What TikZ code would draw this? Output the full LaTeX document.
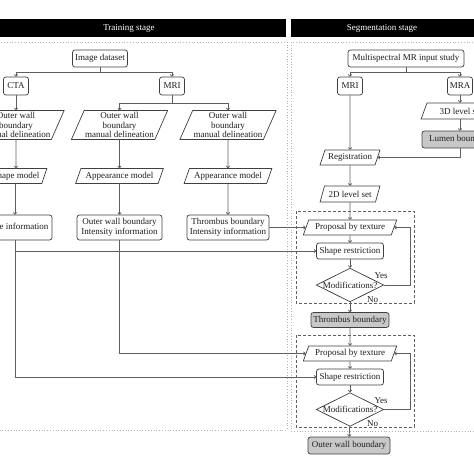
\documentclass[tikz,border=0pt]{standalone}
\usepackage{fontspec}
\setmainfont{Liberation Serif}
\usepackage{tikz}
\usetikzlibrary{arrows.meta, positioning, shapes.geometric, calc}
\definecolor{linegray}{RGB}{95,95,95}
\definecolor{boxgray}{RGB}{200,200,200}
\definecolor{inkgray}{RGB}{30,30,30}

\begin{document}
\begin{tikzpicture}[x=1pt, y=-1pt,
    every node/.style={font=\fontsize{9}{9.5}\selectfont, text=inkgray},
    conn/.style={draw=linegray, line width=0.8pt},
    arr/.style={conn, -{To[length=2.5pt, width=4pt]}},
    blk/.style={draw=inkgray!85, line width=0.7pt, rounded corners=2.5pt, fill=white, align=center, inner sep=1pt},
    result/.style={blk, fill=boxgray},
    para/.style={trapezium, trapezium left angle=65, trapezium right angle=115, trapezium stretches=true, draw=inkgray!85, line width=0.7pt, fill=white, align=center, inner sep=1pt},
    decide/.style={diamond, aspect=2, draw=inkgray!85, line width=0.7pt, fill=white, inner sep=0pt},
    bar/.style={fill=black, draw=none},
    frame/.style={draw=gray!60, dotted, line width=0.8pt},
    group/.style={draw=linegray, dash pattern=on 3pt off 2pt, line width=0.8pt}
]
\useasboundingbox (0,0) rectangle (474,474);
\clip (0,0) rectangle (474,474);

\draw[frame] (-10,42) rectangle (287,430);
\draw[frame] (291,42) rectangle (490,431);
\fill[bar] (-10,19) rectangle (286,37);
\fill[bar] (291,19) rectangle (490,37);
\node[text=white] (trainlbl) at (129,28) {Training stage};
\node[text=white] (seglbl) at (382,28) {Segmentation stage};

\draw[group] (296,211) rectangle (414,303);
\draw[group] (296,335) rectangle (414,427);

\node[blk, minimum width=55pt, minimum height=17pt] (dataset) at (100,58.5) {Image dataset};
\node[blk, minimum width=25pt, minimum height=18pt] (cta) at (16,86) {CTA};
\node[blk, minimum width=25pt, minimum height=18pt] (mriA) at (172,86) {MRI};
\node[para, minimum width=88pt, minimum height=29pt] (delinA) at (16,125) {Outer wall\\boundary\\manual delineation};
\node[para, minimum width=88pt, minimum height=29pt] (delinB) at (119.5,125) {Outer wall\\boundary\\manual delineation};
\node[para, minimum width=88pt, minimum height=29pt] (delinC) at (228,125) {Outer wall\\boundary\\manual delineation};
\node[para, minimum width=62pt, minimum height=15pt] (shmodel) at (16,176) {Shape model};
\node[para, minimum width=88pt, minimum height=15pt] (appA) at (119.5,176) {Appearance model};
\node[para, minimum width=88pt, minimum height=15pt] (appB) at (228,176) {Appearance model};
\node[blk, minimum width=74pt, minimum height=25pt] (shinfo) at (15,227.5) {Shape information};
\node[blk, minimum width=85pt, minimum height=25pt] (owinfo) at (119.5,227.5) {Outer wall boundary\\Intensity information};
\node[blk, minimum width=82pt, minimum height=25pt] (thinfo) at (228,227.5) {Thrombus boundary\\Intensity information};

\node[blk, minimum width=116pt, minimum height=17pt] (study) at (406,58.5) {Multispectral MR input study};
\node[blk, minimum width=25pt, minimum height=18pt] (mriB) at (350,86) {MRI};
\node[blk, minimum width=25pt, minimum height=18pt] (mra) at (460,86) {MRA};
\node[para, minimum width=80pt, minimum height=16pt] (lvlthree) at (461,111) {3D level set};
\node[result, minimum width=76pt, minimum height=17pt] (lumen) at (460,139.5) {Lumen boundary};
\node[para, minimum width=60pt, minimum height=15pt] (reg) at (350,157.5) {Registration};
\node[para, minimum width=60pt, minimum height=16pt] (lvltwo) at (350,194) {2D level set};

\node[para, minimum width=94pt, minimum height=15pt] (propA) at (350,227.5) {Proposal by texture};
\node[blk, minimum width=67pt, minimum height=16pt] (restrA) at (350,251) {Shape restriction};
\node[decide] (modA) at (350,285) {Modifications?};
\node[result, minimum width=78pt, minimum height=15pt] (thromb) at (350,320) {Thrombus boundary};

\node[para, minimum width=94pt, minimum height=15pt] (propB) at (350,353.5) {Proposal by texture};
\node[blk, minimum width=67pt, minimum height=16pt] (restrB) at (350,377) {Shape restriction};
\node[decide] (modB) at (350,409.5) {Modifications?};
\node[result, minimum width=82pt, minimum height=17pt] (outer) at (349,445.5) {Outer wall boundary};

\coordinate (splitA) at (100,72);
\coordinate (splitB) at (172,103);
\coordinate (splitC) at (406,72);

\draw[conn] (dataset) -- (splitA);
\draw[arr] (splitA) -| (cta);
\draw[arr] (splitA) -| (mriA);
\draw[arr] (cta) -- (delinA);
\draw[conn] (mriA) -- (splitB);
\draw[arr] (splitB) -| (delinB);
\draw[arr] (splitB) -| (delinC);
\draw[arr] (delinA) -- (shmodel);
\draw[arr] (delinB) -- (appA);
\draw[arr] (delinC) -- (appB);
\draw[arr] (shmodel.south -| shinfo.north) -- (shinfo);
\draw[arr] (appA) -- (owinfo);
\draw[arr] (appB) -- (thinfo);

\draw[arr] (shinfo.south) |- (restrA.west);
\draw[arr] (shinfo.south) |- (restrB.west);
\draw[arr] (owinfo.south) |- (propB.west);
\draw[arr] (thinfo.east) -- (propA.west);

\draw[conn] (study) -- (splitC);
\draw[arr] (splitC) -| (mriB);
\draw[arr] (splitC) -| (mra);
\draw[arr] (mra) -- (lvlthree.north -| mra.south);
\draw[arr] (lvlthree.south -| lumen.north) -- (lumen);
\draw[arr] (lumen.south) |- (reg.east);
\draw[arr] (mriB) -- (reg);
\draw[arr] (reg) -- (lvltwo);
\draw[arr] (lvltwo) -- (propA);
\draw[arr] (propA) -- (restrA);
\draw[arr] (restrA) -- (modA);
\draw[arr] (modA.east) -- ++(26,0) |- (propA.east);
\draw[arr] (modA) -- (thromb);
\draw[arr] (thromb) -- (propB);
\draw[arr] (propB) -- (restrB);
\draw[arr] (restrB) -- (modB);
\draw[arr] (modB.east) -- ++(26,0) |- (propB.east);
\draw[arr] (modB) -- (outer);

\node[anchor=south, inner sep=0pt] (yesA) at ([xshift=-3pt, yshift=6pt]modA.east) {Yes};
\node[anchor=west, inner sep=0pt] (noA) at ([xshift=17pt, yshift=3pt]modA.south) {No};
\node[anchor=south, inner sep=0pt] (yesB) at ([xshift=-3pt, yshift=6pt]modB.east) {Yes};
\node[anchor=west, inner sep=0pt] (noB) at ([xshift=17pt, yshift=3pt]modB.south) {No};
\end{tikzpicture}
\end{document}
